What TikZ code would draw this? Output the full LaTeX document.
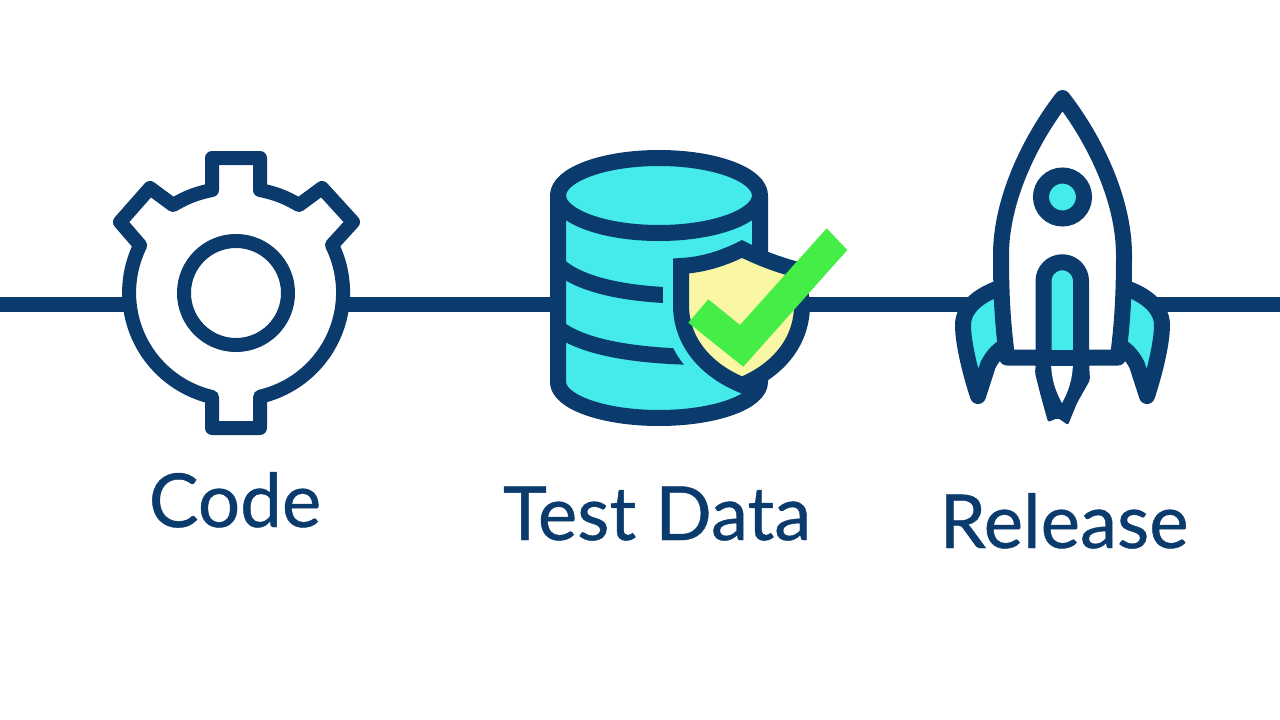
\documentclass[tikz,border=0pt]{standalone}
\usepackage{fontspec}
\setmainfont{Lato}[FakeBold=0.6]
\usepackage{xcolor}
\usepackage{tikz}
\definecolor{navy}{HTML}{0B3A6C}
\definecolor{aqua}{HTML}{45EAEA}
\definecolor{cream}{HTML}{FAF7A4}
\definecolor{tick}{HTML}{45EE47}

\begin{document}
\begin{tikzpicture}[>=latex, x=1pt, y=-1pt, inner sep=0pt,
		wire/.style={navy, line width=15pt},
		outline/.style={draw=navy, line width=14pt, line join=round},
		thickline/.style={draw=navy, line width=16pt, line join=round},
		caption/.style={anchor=base, text=navy, font=\fontsize{74.5}{80}\selectfont}]
	\useasboundingbox[fill=white] (0,0) rectangle (1280,720);

	\coordinate (leftend) at (0,304.5);
	\coordinate (gearw) at (130,304.5);
	\coordinate (geare) at (342,304.5);
	\coordinate (dbw) at (558,304.5);
	\coordinate (shielde) at (802,304.5);
	\coordinate (rocketw) at (1000,304.5);
	\coordinate (rockete) at (1125,304.5);
	\coordinate (rightend) at (1280,304.5);

	\draw[wire] (leftend) -- (gearw);
	\draw[wire] (geare) -- (dbw);
	\draw[wire] (shielde) -- (rocketw);
	\draw[wire] (rockete) -- (rightend);

	% gear
	\path[outline, fill=white] (212,190) -- (212,158) -- (260,158) -- (260,190)
		to[bend left=9] (299,205) -- (322,188) -- (353,222) -- (332,245)
		arc[start angle=-26.3, end angle=77, radius=107] -- (260,428) -- (212,428) -- (212,397)
		arc[start angle=103, end angle=206.3, radius=107] -- (120,222) -- (150,188) -- (173,205)
		to[bend left=9] cycle;
	\node[circle, draw=navy, line width=14pt, minimum size=104pt] (hub) at (236,293) {};

	% database
	\path[fill=aqua] (558,195.5) -- (558,382) arc[start angle=180, end angle=0, x radius=101, y radius=36] -- (760,195.5) -- cycle;
	\draw[thickline] (558,265) .. controls (580,285) and (625,295) .. (690,296);
	\draw[thickline] (558,328) .. controls (580,345) and (625,356) .. (700,357);
	\begin{scope}
		\clip (558,195.5) -- (558,382) arc[start angle=180, end angle=0, x radius=101, y radius=36] -- (760,195.5) -- cycle;
		\draw[aqua, line width=36pt] (742,249) .. controls (720,260) and (700,265) .. (681,266) -- (681,305) .. controls (681,345) and (710,372) .. (742,385);
	\end{scope}
	\path[thickline, fill=aqua] (659,195.5) ellipse[x radius=101, y radius=37.5];
	\draw[thickline] (558,195.5) -- (558,382) arc[start angle=180, end angle=0, x radius=101, y radius=36] -- (760,195.5);

	% shield and check
	\path[draw=navy, line width=16pt, fill=cream, line join=miter] (742,249) .. controls (720,260) and (700,265) .. (681,266) -- (681,305)
		.. controls (681,345) and (710,372) .. (742,385) .. controls (774,372) and (802,345) .. (802,305)
		-- (798,270) .. controls (783,266) and (764,260) .. cycle;
	\fill[tick] (708.3,299.3) -- (740,325) -- (826.7,228.3) -- (847.3,250) -- (743.3,366.7) -- (688.3,322.7) -- cycle;

	% rocket
	\path[draw=navy, line width=16pt, fill=aqua, line join=round] (1003,287) .. controls (985,292) and (963,305) .. (963,325)
		.. controls (963,345) and (972,378) .. (978,396) -- (988,365) .. controls (993,355) and (1000,348) .. (1008,345);
	\path[draw=navy, line width=16pt, fill=aqua, line join=round] (1122,287) .. controls (1140,292) and (1162,305) .. (1162,325)
		.. controls (1162,345) and (1153,378) .. (1147,396) -- (1137,365) .. controls (1132,355) and (1125,348) .. (1117,345);
	\fill[navy, rounded corners=2pt] (1036,362) -- (1035,373) -- (1040,393) -- (1048,422) -- (1058,418) -- (1068,425) -- (1077,403) -- (1090,380) -- (1089,362) -- cycle;
	\fill[white] (1051,360) .. controls (1051,380) and (1056,392) .. (1062,403) .. controls (1068,392) and (1073,380) .. (1073,360) -- cycle;
	\path[draw=navy, line width=16pt, fill=white, line join=round] (1062.5,98) .. controls (1030,140) and (1001,200) .. (1001,255)
		.. controls (1001,300) and (1003,325) .. (1007,357.5) -- (1118,357.5)
		.. controls (1122,325) and (1124,300) .. (1124,255) .. controls (1124,200) and (1095,140) .. cycle;
	\path[thickline, fill=aqua] (1043.5,357.5) -- (1043.5,281) arc[start angle=180, end angle=360, radius=18.75] -- (1081,357.5);
	\draw[thickline] (1035,357.5) -- (1090,357.5);
	\node[circle, draw=navy, fill=aqua, line width=16pt, minimum size=43pt] (porthole) at (1062.5,197) {};

	\node[caption] (code) at (235,527) {Code};
	\node[caption] (testdata) at (657,540) {Test Data};
	\node[caption] (release) at (1064,548) {Release};
\end{tikzpicture}
\end{document}
